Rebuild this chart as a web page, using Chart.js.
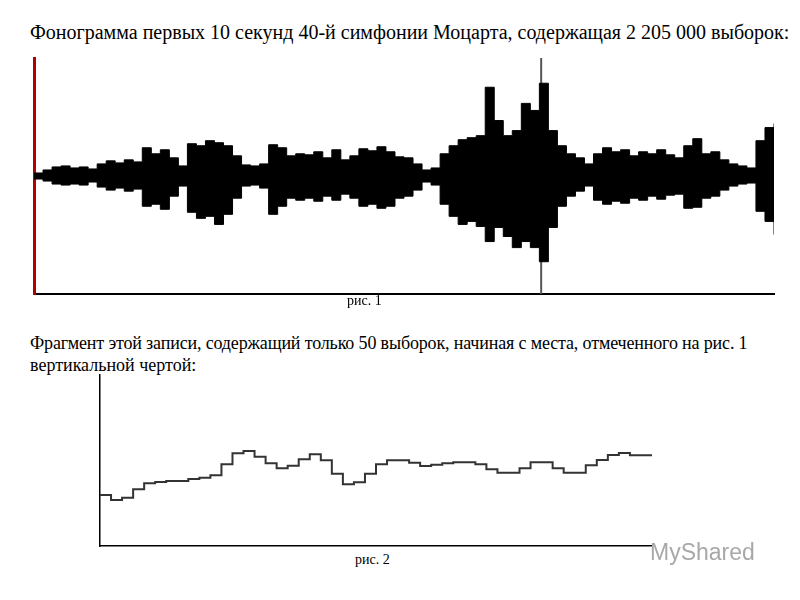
<!DOCTYPE html>
<html>
<head>
<meta charset="utf-8">
<script src="https://cdn.jsdelivr.net/npm/chart.js@4"></script>
<style>
body { margin:0; width:800px; height:600px; background:#fff; position:relative; font-family:"Liberation Serif", serif; color:#000; overflow:hidden }
.t { position:absolute; white-space:nowrap }
.box { position:absolute; left:0; width:800px }
</style>
</head>
<body>
<div class="t" style="left:30px;top:21px;font-size:20px">Фонограмма первых 10 секунд 40-й симфонии Моцарта, содержащая 2 205 000 выборок:</div>
<div class="box" style="top:50px;height:250px"><canvas id="wave"></canvas></div>
<div class="t" style="left:347px;top:293px;font-size:14px">рис. 1</div>
<div class="t" style="left:30px;top:333px;font-size:18px;letter-spacing:-0.15px">Фрагмент этой записи, содержащий только 50 выборок, начиная с места, отмеченного на рис. 1</div>
<div class="t" style="left:30px;top:355px;font-size:18px">вертикальной чертой:</div>
<div class="box" style="top:370px;height:180px"><canvas id="steps"></canvas></div>
<div class="t" style="left:355px;top:552px;font-size:14px">рис. 2</div>
<div class="t" style="left:650px;top:539px;font-size:23px;color:#a8a8a8;font-family:'Liberation Sans',sans-serif">MyShared</div>
<script>
// envelope of the waveform, 83 columns over 10 s
const waveTop = [3,6,9,10,8,9,7,12,15,13,16,14,28,22,26,18,10,32,30,35,33,30,20,11,10,12,31,28,20,22,21,24,18,26,16,20,27,25,29,24,19,18,12,6,8,22,30,36,38,40,88,55,40,45,72,65,92,45,30,22,18,12,22,28,24,26,20,24,22,26,21,18,30,37,22,24,16,12,10,8,35,48,52]
const waveBottom = [3,5,8,9,8,9,6,11,14,12,15,13,30,28,33,20,10,36,42,40,48,38,22,10,9,12,38,30,22,24,22,25,20,24,18,22,30,28,32,30,22,20,14,6,9,28,40,48,45,50,65,51,60,71,65,71,85,51,30,20,15,10,24,28,25,27,22,24,20,23,19,18,32,31,22,20,14,10,8,7,35,45,58]
const markerPos = 56.2
// 50 samples starting at the marker
const samples = [153,138,145,170,188,192,195,195,201,205,212,245,278,285,268,248,233,241,260,275,257,217,185,191,217,245,257,257,250,240,244,248,251,251,245,230,220,220,233,251,251,233,220,220,242,258,273,279,272,272]

const noTicks = { ticks:{ display:false }, grid:{ display:false, drawTicks:false } }

new Chart(document.querySelector('#wave'), {
    type:'line',
    data:{
        datasets:[
            { data: waveTop.map((v, i) => ({ x:i, y:v })), borderColor:'#000', backgroundColor:'#000', borderWidth:1, pointRadius:0, stepped:true, fill:false },
            { data: waveBottom.map((v, i) => ({ x:i, y:-v })), borderColor:'#000', backgroundColor:'#000', borderWidth:1, pointRadius:0, stepped:true, fill:'-1' },
            { data:[{ x:markerPos, y:-117 }, { x:markerPos, y:120 }], borderColor:'#555', borderWidth:2, pointRadius:0 }
        ]
    },
    options:{
        responsive:true, maintainAspectRatio:false, animation:false,
        layout:{ padding:{ left:34, right:26, top:8, bottom:6 } },
        plugins:{ legend:{ display:false }, tooltip:{ enabled:false } },
        scales:{
            x:{ type:'linear', min:0, max:waveTop.length - 1, ...noTicks, border:{ color:'#000', width:2 } },
            y:{ min:-117, max:117, ...noTicks, border:{ color:'#b00000', width:3 } }
        }
    }
})

new Chart(document.querySelector('#steps'), {
    type:'line',
    data:{
        datasets:[{
            data: samples.map((v, i) => ({ x:i, y:v })).concat([{ x:samples.length, y:samples[samples.length - 1] }]),
            borderColor:'#333', borderWidth:2, pointRadius:0, stepped:true, fill:false
        }]
    },
    options:{
        responsive:true, maintainAspectRatio:false, animation:false,
        layout:{ padding:{ left:100, right:148, top:5, bottom:4 } },
        plugins:{ legend:{ display:false }, tooltip:{ enabled:false } },
        scales:{
            x:{ type:'linear', min:0, max:samples.length, ...noTicks, border:{ color:'#000', width:1.5 } },
            y:{ min:0, max:513, ...noTicks, border:{ color:'#000', width:1.5 } }
        }
    }
})
</script>
</body>
</html>
